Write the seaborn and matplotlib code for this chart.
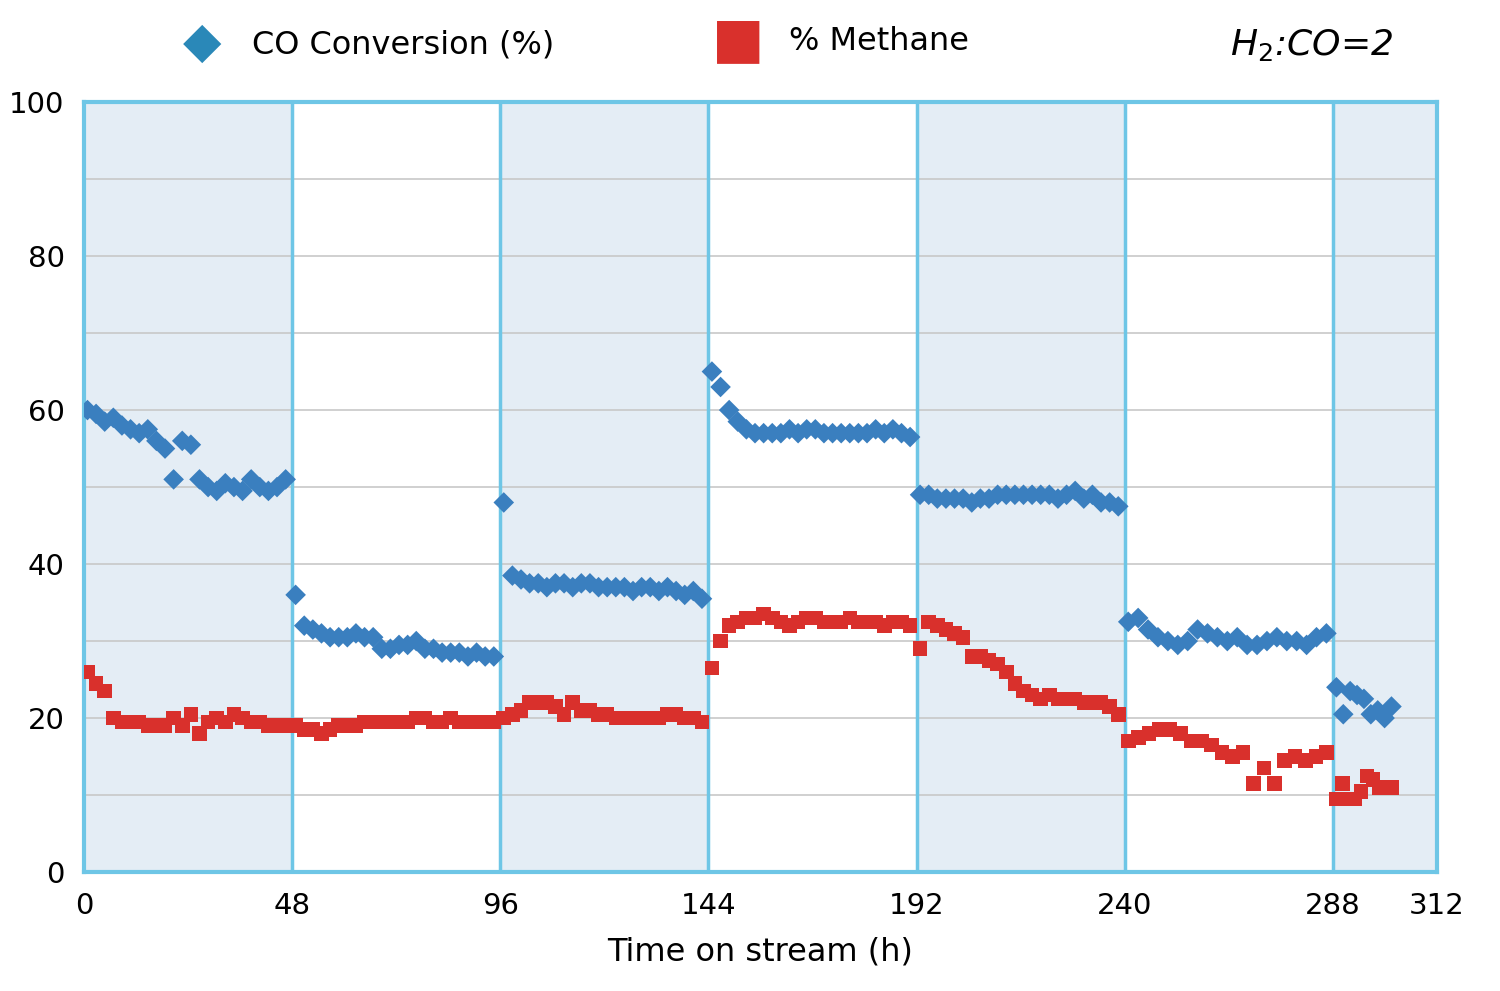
import numpy as np
import pandas as pd
import matplotlib
matplotlib.use("Agg")
import matplotlib.pyplot as plt
import seaborn as sns

co_seg = [
 [60,59.5,58.5,59,58,57.5,57,57.5,56,55,51,56,55.5,51,50,49.5,50.5,50,49.5,51,50,49.5,50,51],
 [36,32,31.5,31,30.5,30.5,30.5,31,30.5,30.5,29,29,29.5,29.5,30,29,29,28.5,28.5,28.5,28,28.5,28,28],
 [48,38.5,38,37.5,37.5,37,37.5,37.5,37,37.5,37.5,37,37,37,37,36.5,37,37,36.5,37,36.5,36,36.5,35.5],
 [65,63,60,58.5,57.5,57,57,57,57,57.5,57,57.5,57.5,57,57,57,57,57,57,57.5,57,57.5,57,56.5],
 [49,49,48.5,48.5,48.5,48.5,48,48.5,48.5,49,49,49,49,49,49,49,48.5,49,49.5,48.5,49,48,48,47.5],
 [32.5,33,31.5,30.5,30,29.5,30,31.5,31,30.5,30,30.5,29.5,29.5,30,30.5,30,30,29.5,30.5,31],
 [24,20.5,23.5,23,22.5,20.5,21,20,21.5],
]
ch4_seg = [
 [26,24.5,23.5,20,19.5,19.5,19.5,19,19,19,20,19,20.5,18,19.5,20,19.5,20.5,20,19.5,19.5,19,19,19],
 [19,18.5,18.5,18,18.5,19,19,19,19.5,19.5,19.5,19.5,19.5,19.5,20,20,19.5,19.5,20,19.5,19.5,19.5,19.5,19.5],
 [20,20.5,21,22,22,22,21.5,20.5,22,21,21,20.5,20.5,20,20,20,20,20,20,20.5,20.5,20,20,19.5],
 [26.5,30,32,32.5,33,33,33.5,33,32.5,32,32.5,33,33,32.5,32.5,32.5,33,32.5,32.5,32.5,32,32.5,32.5,32],
 [29,32.5,32,31.5,31,30.5,28,28,27.5,27,26,24.5,23.5,23,22.5,23,22.5,22.5,22.5,22,22,22,21.5,20.5],
 [17,17.5,18,18.5,18.5,18,17,17,16.5,15.5,15,15.5,11.5,13.5,11.5,14.5,15,14.5,15,15.5],
 [9.5,11.5,9.5,9.5,10.5,12.5,12,11,11,11],
]
seg_starts = [0, 48, 96, 144, 192, 240, 288]
xticks = [0, 48, 96, 144, 192, 240, 288, 312]

def times(vals, start, end):
    n = len(vals)
    return list(np.linspace(start + 0.8, end - 1.5, n)) if n > 1 else [start]

rows = []
for i, s in enumerate(seg_starts):
    end = 48 + s if s < 288 else 303
    for t, v in zip(times(co_seg[i], s, end), co_seg[i]):
        rows.append((t, v, "CO Conversion (%)"))
    for t, v in zip(times(ch4_seg[i], s, end), ch4_seg[i]):
        rows.append((t, v, "% Methane"))
df = pd.DataFrame(rows, columns=["t", "v", "s"])

sns.set_style("white")
plt.rcParams["text.color"] = "black"
fig = plt.figure(figsize=(15, 9.91), dpi=100)
ax = fig.add_axes([0.056, 0.12, 0.902, 0.777])
ax.set_facecolor("#eef3f9")
for i, s in enumerate(xticks[:-1]):
    e = xticks[i + 1]
    ax.axvspan(s, e, color="#e4edf5" if i % 2 == 0 else "white", zorder=0, lw=0)
for y in range(10, 100, 10):
    ax.axhline(y, color="#c8c8c8", lw=1.2, zorder=1)
for x in xticks[1:-1]:
    ax.axvline(x, color="#6ec6e6", lw=2.5, zorder=1)
sns.scatterplot(data=df, x="t", y="v", hue="s", style="s",
                palette={"CO Conversion (%)": "#3a7fbf", "% Methane": "#d9302c"},
                markers={"CO Conversion (%)": "D", "% Methane": "s"},
                s=110, edgecolor="none", legend=False, ax=ax, zorder=3)
ax.set_xlim(0, 312)
ax.set_ylim(0, 100)
ax.set_xticks(xticks)
ax.set_yticks(range(0, 101, 20))
ax.tick_params(labelsize=21, length=0, pad=14, labelcolor="black")
ax.set_xlabel("Time on stream (h)", fontsize=23, color="black", labelpad=12)
ax.set_ylabel("")
for sp in ax.spines.values():
    sp.set_color("#6ec6e6"); sp.set_linewidth(3)
fig.text(0.135, 0.957, "◆", color="#2a88b8", fontsize=36, ha="center", va="center", family="DejaVu Sans")
fig.text(0.168, 0.955, "CO Conversion (%)", fontsize=23, va="center")
fig.text(0.492, 0.958, "■", color="#d9302c", fontsize=40, ha="center", va="center", family="DejaVu Sans")
fig.text(0.526, 0.958, "% Methane", fontsize=23, va="center")
fig.text(0.82, 0.955, "$H_2$:CO=2", fontsize=26, va="center", style="italic")
fig.savefig("out.png", dpi=100)
